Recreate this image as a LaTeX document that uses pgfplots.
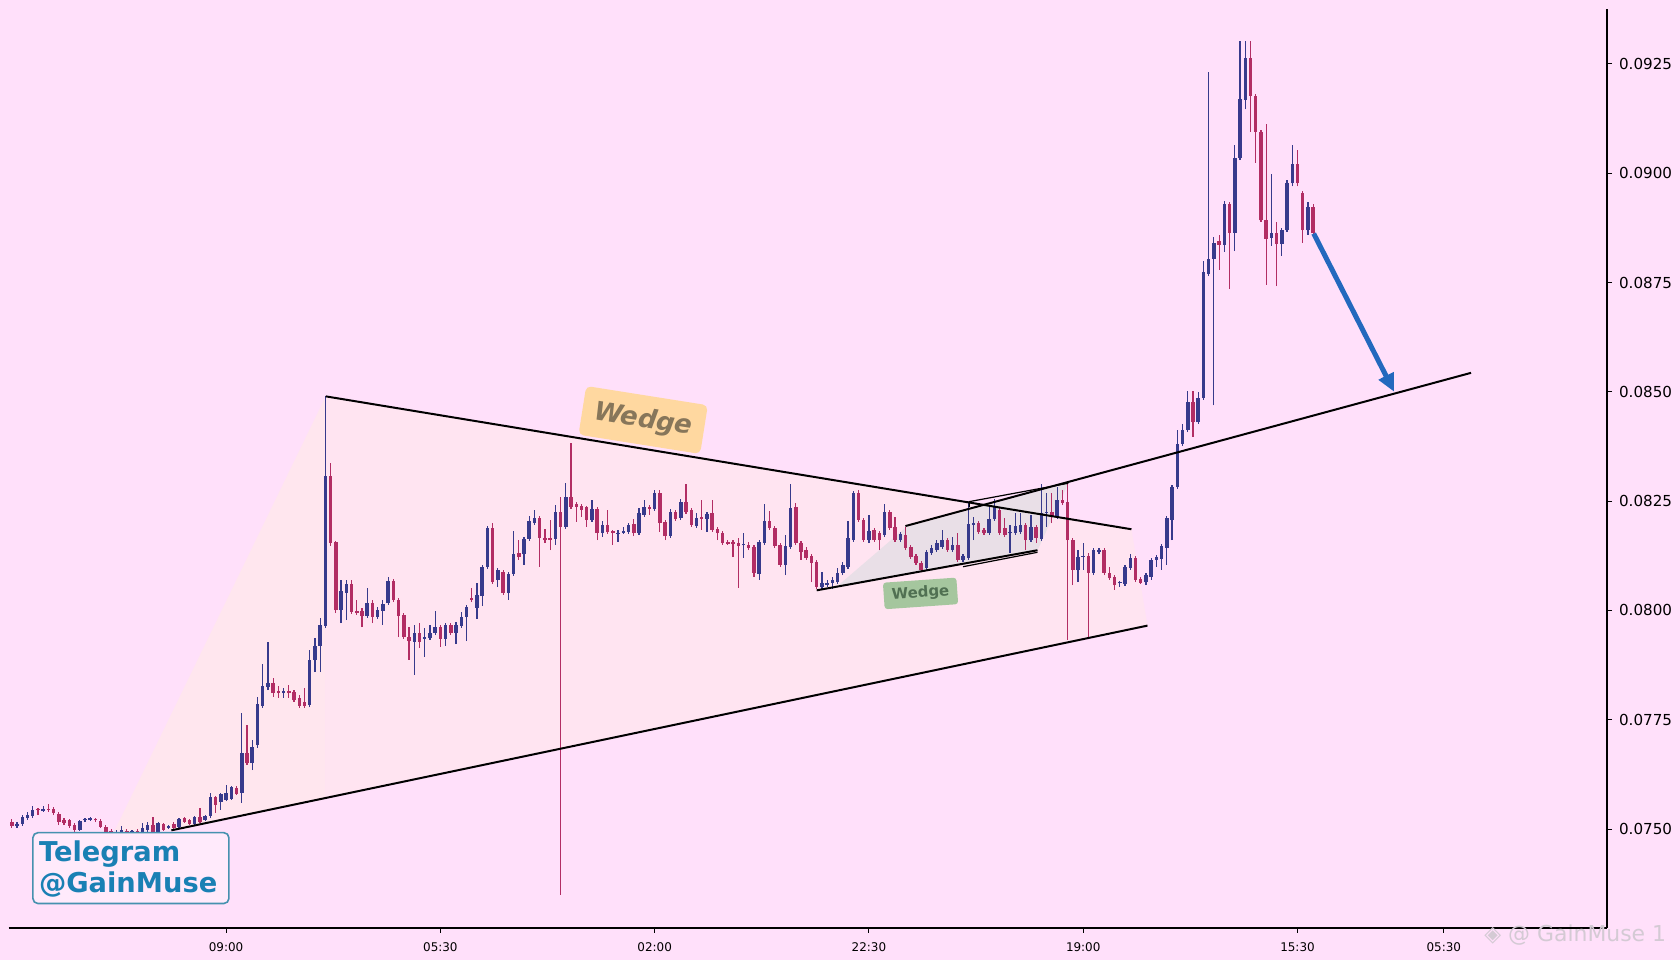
\documentclass[border=0pt]{standalone}
\usepackage{pgfplots}
\pgfplotsset{compat=1.18}
\usepackage{pgfplotstable}
\usepackage{fontspec}
\setmainfont{DejaVu Sans}
\usetikzlibrary{arrows.meta}

\definecolor{bg}{RGB}{255,224,250}
\definecolor{wfill}{RGB}{255,228,241}
\definecolor{peach}{RGB}{255,230,238}
\definecolor{gfill}{RGB}{233,223,231}
\definecolor{cup}{RGB}{55,58,140}
\definecolor{cdn}{RGB}{178,45,100}
\definecolor{arrowc}{RGB}{35,105,190}
\definecolor{obox}{RGB}{255,216,160}
\definecolor{otext}{RGB}{135,118,90}
\definecolor{gbox}{RGB}{165,198,158}
\definecolor{gtext}{RGB}{80,112,82}
\definecolor{tgtext}{RGB}{25,128,180}
\definecolor{tgline}{RGB}{70,145,175}
\definecolor{tgfill}{RGB}{255,234,251}
\definecolor{wm}{RGB}{212,202,212}

% 30-minute candles, x = bar number
\pgfplotstableread{
x o h l c
1 0.07507 0.07516 0.07503 0.07512
2 0.07512 0.07532 0.07507 0.07528
3 0.07525 0.07539 0.07521 0.07532
4 0.07530 0.07553 0.07525 0.07544
6 0.07541 0.07553 0.07539 0.07546
13 0.07498 0.07521 0.07496 0.07519
14 0.07520 0.07525 0.07516 0.07522
15 0.07521 0.07528 0.07519 0.07525
20 0.07487 0.07498 0.07482 0.07493
21 0.07491 0.07507 0.07484 0.07498
23 0.07491 0.07498 0.07484 0.07496
25 0.07493 0.07514 0.07489 0.07503
26 0.07498 0.07516 0.07493 0.07509
28 0.07493 0.07516 0.07491 0.07514
30 0.07503 0.07509 0.07500 0.07507
32 0.07505 0.07525 0.07503 0.07523
35 0.07512 0.07530 0.07509 0.07528
37 0.07521 0.07532 0.07519 0.07530
38 0.07530 0.07583 0.07525 0.07573
40 0.07562 0.07583 0.07544 0.07580
41 0.07567 0.07601 0.07564 0.07583
42 0.07569 0.07599 0.07567 0.07596
44 0.07583 0.07766 0.07560 0.07674
46 0.07651 0.07704 0.07635 0.07688
47 0.07692 0.07802 0.07686 0.07786
48 0.07782 0.07878 0.07777 0.07827
49 0.07825 0.07928 0.07818 0.07834
52 0.07811 0.07823 0.07800 0.07816
57 0.07784 0.07910 0.07779 0.07887
58 0.07887 0.07937 0.07859 0.07919
59 0.07919 0.07983 0.07859 0.07967
60 0.07965 0.08491 0.07960 0.08308
63 0.08001 0.08070 0.07971 0.08045
64 0.08040 0.08070 0.07978 0.08061
68 0.07987 0.08052 0.07983 0.08017
70 0.07985 0.08008 0.07981 0.08001
71 0.07999 0.08024 0.07967 0.08015
72 0.08017 0.08077 0.08013 0.08068
77 0.07928 0.07967 0.07853 0.07949
79 0.07935 0.07960 0.07894 0.07939
80 0.07937 0.07967 0.07933 0.07949
81 0.07949 0.07999 0.07944 0.07962
83 0.07935 0.07971 0.07919 0.07967
85 0.07949 0.07974 0.07923 0.07967
86 0.07965 0.07997 0.07960 0.07985
87 0.07985 0.08013 0.07930 0.08008
89 0.08006 0.08063 0.07981 0.08036
90 0.08033 0.08104 0.08010 0.08100
91 0.08100 0.08193 0.08095 0.08189
93 0.08070 0.08097 0.08054 0.08093
95 0.08040 0.08088 0.08024 0.08084
96 0.08084 0.08182 0.08079 0.08129
98 0.08129 0.08168 0.08104 0.08164
99 0.08164 0.08216 0.08159 0.08205
100 0.08200 0.08230 0.08196 0.08212
104 0.08164 0.08241 0.08150 0.08225
106 0.08191 0.08292 0.08187 0.08260
111 0.08207 0.08253 0.08203 0.08232
113 0.08177 0.08205 0.08168 0.08196
116 0.08176 0.08184 0.08157 0.08178
117 0.08178 0.08191 0.08175 0.08181
118 0.08180 0.08200 0.08175 0.08196
120 0.08177 0.08235 0.08173 0.08223
121 0.08219 0.08253 0.08214 0.08237
123 0.08232 0.08276 0.08228 0.08269
126 0.08170 0.08232 0.08166 0.08225
128 0.08212 0.08255 0.08207 0.08248
131 0.08193 0.08223 0.08189 0.08212
133 0.08209 0.08225 0.08180 0.08221
140 0.08149 0.08177 0.08120 0.08151
143 0.08084 0.08161 0.08070 0.08157
144 0.08154 0.08244 0.08150 0.08205
148 0.08104 0.08173 0.08081 0.08148
149 0.08145 0.08289 0.08141 0.08235
155 0.08054 0.08088 0.08049 0.08063
156 0.08058 0.08070 0.08054 0.08063
157 0.08063 0.08077 0.08049 0.08070
158 0.08065 0.08097 0.08061 0.08086
159 0.08086 0.08111 0.08081 0.08104
160 0.08100 0.08205 0.08095 0.08166
161 0.08161 0.08273 0.08157 0.08269
164 0.08161 0.08219 0.08154 0.08182
167 0.08173 0.08244 0.08168 0.08225
170 0.08161 0.08180 0.08157 0.08175
175 0.08097 0.08138 0.08093 0.08134
176 0.08132 0.08150 0.08127 0.08143
177 0.08138 0.08161 0.08134 0.08154
178 0.08145 0.08184 0.08141 0.08161
180 0.08138 0.08168 0.08134 0.08150
182 0.08116 0.08129 0.08111 0.08125
183 0.08120 0.08246 0.08116 0.08198
184 0.08196 0.08214 0.08161 0.08200
187 0.08177 0.08241 0.08173 0.08209
188 0.08209 0.08255 0.08205 0.08237
191 0.08177 0.08196 0.08132 0.08180
192 0.08177 0.08223 0.08173 0.08193
193 0.08180 0.08223 0.08175 0.08196
195 0.08161 0.08219 0.08157 0.08191
197 0.08164 0.08289 0.08159 0.08223
198 0.08223 0.08269 0.08191 0.08225
200 0.08214 0.08283 0.08209 0.08253
204 0.08093 0.08138 0.08065 0.08122
205 0.08122 0.08154 0.08093 0.08125
207 0.08086 0.08143 0.08081 0.08138
208 0.08134 0.08143 0.08129 0.08138
212 0.08062 0.08068 0.08054 0.08064
213 0.08061 0.08104 0.08056 0.08100
214 0.08097 0.08129 0.08093 0.08120
217 0.08065 0.08086 0.08058 0.08081
218 0.08077 0.08120 0.08070 0.08116
219 0.08116 0.08127 0.08100 0.08122
220 0.08118 0.08152 0.08093 0.08148
221 0.08143 0.08216 0.08104 0.08212
222 0.08207 0.08287 0.08161 0.08283
223 0.08283 0.08413 0.08278 0.08381
224 0.08381 0.08427 0.08376 0.08413
225 0.08413 0.08502 0.08408 0.08477
227 0.08431 0.08500 0.08427 0.08486
228 0.08486 0.08799 0.08482 0.08774
229 0.08770 0.09231 0.08765 0.08804
230 0.08804 0.08854 0.08469 0.08841
232 0.08836 0.08937 0.08820 0.08930
234 0.08864 0.09065 0.08822 0.09035
235 0.09035 0.09303 0.09030 0.09169
236 0.09168 0.09303 0.09146 0.09264
241 0.08852 0.08998 0.08834 0.08864
243 0.08838 0.08875 0.08811 0.08870
244 0.08870 0.08985 0.08866 0.08977
245 0.08977 0.09065 0.08970 0.09021
248 0.08870 0.08934 0.08859 0.08922
}\up

\pgfplotstableread{
x o h l c
0 0.07517 0.07523 0.07503 0.07507
5 0.07545 0.07548 0.07532 0.07543
7 0.07545 0.07557 0.07539 0.07543
8 0.07546 0.07551 0.07532 0.07537
9 0.07535 0.07539 0.07509 0.07516
10 0.07521 0.07525 0.07509 0.07514
11 0.07521 0.07523 0.07503 0.07507
12 0.07509 0.07514 0.07493 0.07498
16 0.07522 0.07525 0.07516 0.07520
17 0.07519 0.07523 0.07503 0.07505
18 0.07505 0.07509 0.07489 0.07493
19 0.07496 0.07500 0.07484 0.07489
22 0.07496 0.07500 0.07484 0.07489
24 0.07496 0.07500 0.07482 0.07489
27 0.07509 0.07528 0.07489 0.07493
29 0.07512 0.07514 0.07496 0.07498
31 0.07512 0.07516 0.07498 0.07503
33 0.07525 0.07528 0.07514 0.07516
34 0.07521 0.07523 0.07509 0.07512
36 0.07528 0.07548 0.07514 0.07516
39 0.07573 0.07576 0.07537 0.07555
43 0.07594 0.07599 0.07578 0.07580
45 0.07674 0.07738 0.07647 0.07651
50 0.07834 0.07846 0.07802 0.07811
51 0.07816 0.07827 0.07800 0.07811
53 0.07816 0.07830 0.07800 0.07811
54 0.07814 0.07818 0.07791 0.07795
55 0.07800 0.07807 0.07777 0.07782
56 0.07791 0.07823 0.07777 0.07782
61 0.08308 0.08337 0.08148 0.08154
62 0.08157 0.08159 0.07994 0.08001
65 0.08061 0.08070 0.07992 0.07997
66 0.07999 0.08024 0.07990 0.07994
67 0.07999 0.08006 0.07962 0.07987
69 0.08017 0.08024 0.07971 0.07985
73 0.08068 0.08072 0.08019 0.08024
74 0.08024 0.08029 0.07939 0.07987
75 0.07990 0.07994 0.07935 0.07939
76 0.07939 0.07962 0.07887 0.07930
78 0.07949 0.07971 0.07914 0.07928
82 0.07962 0.07967 0.07917 0.07935
84 0.07967 0.07971 0.07944 0.07949
88 0.08029 0.08052 0.08019 0.08024
92 0.08189 0.08200 0.08061 0.08065
94 0.08088 0.08093 0.08036 0.08040
97 0.08132 0.08161 0.08116 0.08122
101 0.08212 0.08216 0.08100 0.08166
102 0.08166 0.08187 0.08154 0.08161
103 0.08165 0.08207 0.08138 0.08162
105 0.08225 0.08260 0.07350 0.08191
107 0.08260 0.08383 0.08232 0.08237
108 0.08244 0.08248 0.08203 0.08237
109 0.08239 0.08244 0.08214 0.08230
110 0.08237 0.08239 0.08191 0.08207
112 0.08232 0.08237 0.08161 0.08177
114 0.08196 0.08230 0.08175 0.08180
115 0.08181 0.08184 0.08150 0.08178
119 0.08198 0.08209 0.08170 0.08177
122 0.08237 0.08241 0.08219 0.08232
124 0.08269 0.08276 0.08180 0.08200
125 0.08203 0.08207 0.08161 0.08170
127 0.08225 0.08230 0.08205 0.08209
129 0.08248 0.08289 0.08221 0.08225
130 0.08230 0.08235 0.08191 0.08196
132 0.08214 0.08253 0.08184 0.08209
134 0.08223 0.08253 0.08180 0.08184
135 0.08187 0.08191 0.08161 0.08177
136 0.08177 0.08182 0.08150 0.08154
137 0.08157 0.08161 0.08150 0.08153
138 0.08157 0.08161 0.08122 0.08152
139 0.08154 0.08166 0.08052 0.08148
141 0.08150 0.08157 0.08138 0.08143
142 0.08145 0.08150 0.08077 0.08086
145 0.08205 0.08228 0.08184 0.08189
146 0.08189 0.08193 0.08143 0.08148
147 0.08150 0.08154 0.08100 0.08104
150 0.08237 0.08246 0.08150 0.08154
151 0.08154 0.08159 0.08116 0.08134
152 0.08138 0.08145 0.08116 0.08120
153 0.08125 0.08129 0.08065 0.08109
154 0.08111 0.08116 0.08049 0.08054
162 0.08269 0.08276 0.08203 0.08207
163 0.08207 0.08212 0.08157 0.08161
165 0.08184 0.08189 0.08157 0.08161
166 0.08177 0.08182 0.08138 0.08161
168 0.08225 0.08230 0.08184 0.08189
169 0.08191 0.08214 0.08157 0.08161
171 0.08173 0.08191 0.08138 0.08143
172 0.08145 0.08150 0.08118 0.08122
173 0.08125 0.08129 0.08104 0.08109
174 0.08109 0.08113 0.08088 0.08093
179 0.08161 0.08166 0.08134 0.08138
181 0.08150 0.08177 0.08111 0.08116
185 0.08200 0.08205 0.08175 0.08180
186 0.08184 0.08189 0.08173 0.08177
189 0.08230 0.08235 0.08173 0.08177
190 0.08189 0.08212 0.08168 0.08173
194 0.08196 0.08200 0.08138 0.08161
196 0.08191 0.08196 0.08154 0.08166
199 0.08225 0.08269 0.08200 0.08214
201 0.08253 0.08276 0.08241 0.08246
202 0.08248 0.08292 0.07933 0.08161
203 0.08161 0.08166 0.08058 0.08093
206 0.08125 0.08132 0.07937 0.08086
209 0.08138 0.08143 0.08081 0.08086
210 0.08086 0.08100 0.08070 0.08074
211 0.08077 0.08081 0.08047 0.08058
215 0.08120 0.08125 0.08065 0.08070
216 0.08072 0.08077 0.08061 0.08063
226 0.08477 0.08502 0.08397 0.08431
231 0.08845 0.08859 0.08779 0.08836
233 0.08930 0.08934 0.08735 0.08864
237 0.09264 0.09303 0.09095 0.09177
238 0.09177 0.09181 0.09024 0.09095
239 0.09095 0.09099 0.08889 0.08892
240 0.08892 0.09113 0.08745 0.08850
242 0.08864 0.08889 0.08742 0.08838
246 0.09021 0.09053 0.08970 0.08977
247 0.08955 0.08960 0.08841 0.08870
249 0.08922 0.08930 0.08857 0.08864
}\dn

\begin{document}
\begin{tikzpicture}
\fill[bg] (0,0) rectangle (840bp,480bp);
\useasboundingbox (0,0) rectangle (840bp,480bp);
\begin{axis}[
  at={(4.3bp,16bp)}, anchor=south west,
  scale only axis, width=799.2bp, height=459.7bp,
  xmin=-0.616, xmax=305.22, ymin=0.072736, ymax=0.093767,
  axis x line*=bottom, axis y line*=right,
  axis line style={black, line width=0.6bp},
  tick align=outside, major tick length=2.5bp,
  tick style={black, line width=0.5bp},
  xtick={41,82,123,164,205,246,274},
  xticklabels={09:00,05:30,02:00,22:30,19:00,15:30,05:30},
  ytick={0.075,0.0775,0.08,0.0825,0.085,0.0875,0.09,0.0925},
  yticklabels={0.0750,0.0775,0.0800,0.0825,0.0850,0.0875,0.0900,0.0925},
  xticklabel style={font=\fontsize{6}{7}\selectfont, yshift=-1.5bp},
  yticklabel style={font=\fontsize{7.6}{9}\selectfont},
  scaled y ticks=false,
]
% wedge shading
\fill[peach] (19.61,0.074947) -- (60.06,0.084897) -- (60.06,0.075710) -- (30.53,0.074970) -- cycle;
\fill[wfill] (60.06,0.084897) -- (214.22,0.081857) -- (217.3,0.079653) -- (60.06,0.075710) -- cycle;
\fill[gfill] (157.83,0.080542) -- (171.09,0.081903) -- (202.15,0.082909) -- (196.25,0.081377) -- cycle;

% candles: wicks and bodies
\addplot[draw=none, forget plot, error bars/.cd, y dir=plus, y explicit, error mark=none,
  error bar style={draw=cup, line width=0.6bp}]
  table[x=x, y=l, y error expr=\thisrow{h}-\thisrow{l}] {\up};
\addplot[draw=none, forget plot, error bars/.cd, y dir=plus, y explicit, error mark=none,
  error bar style={draw=cup, line width=1.75bp}]
  table[x=x, y=o, y error expr=\thisrow{c}-\thisrow{o}] {\up};
\addplot[draw=none, forget plot, error bars/.cd, y dir=plus, y explicit, error mark=none,
  error bar style={draw=cdn, line width=0.6bp}]
  table[x=x, y=l, y error expr=\thisrow{h}-\thisrow{l}] {\dn};
\addplot[draw=none, forget plot, error bars/.cd, y dir=plus, y explicit, error mark=none,
  error bar style={draw=cdn, line width=1.75bp}]
  table[x=x, y=c, y error expr=\thisrow{o}-\thisrow{c}] {\dn};

% trend lines
\draw[black, line width=1bp] (60.06,0.084897) -- (214.22,0.081857);
\draw[black, line width=1bp] (30.53,0.074970) -- (217.3,0.079653);
\draw[black, line width=1bp] (154.0,0.080460) -- (196.25,0.081377);
\draw[black, line width=1bp] (170.98,0.081930) -- (279.2,0.085435);
\draw[black, line width=0.6bp] (183.2,0.08237) -- (183.2,0.082489) -- (202.15,0.082909);
\draw[black, line width=0.6bp] (182.0,0.08100) -- (196.25,0.08133);

\draw[arrowc, line width=2.5bp, -{Triangle[length=9bp,width=8bp]}] (249.1,0.08862) -- (264.5,0.08500);

\node[rotate=-9, fill=obox, rounded corners=2.5bp, text=otext, inner xsep=6bp, inner ysep=6bp,
  font=\fontsize{13}{15}\selectfont\bfseries\itshape] at (120.8,0.084357) {Wedge};
\node[rotate=4, fill=gbox, rounded corners=1.5bp, text=gtext, inner xsep=4bp, inner ysep=3bp,
  font=\fontsize{7.5}{9}\selectfont\bfseries] at (173.87,0.080389) {Wedge};
\end{axis}

\node[draw=tgline, fill=tgfill, rounded corners=2.5bp, line width=0.8bp, anchor=south west,
  minimum width=98bp, minimum height=35.4bp, inner sep=0] at (16.05bp,27.85bp) {};
\node[anchor=west, align=left, text=tgtext, inner sep=0,
  font=\fontsize{13.7}{15.5}\selectfont\bfseries] at (19.3bp,45.5bp) {Telegram\\@GainMuse};

\node[anchor=west, text=wm, inner sep=0, font=\fontsize{11}{12}\selectfont] at (742bp,12.5bp) {◈ @ GainMuse 1};
\end{tikzpicture}
\end{document}
